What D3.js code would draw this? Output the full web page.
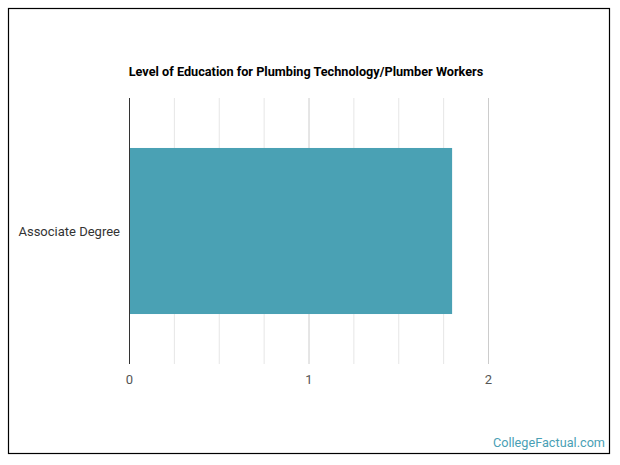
<!DOCTYPE html>
<html>
<head>
<meta charset="utf-8">
<script src="https://cdn.jsdelivr.net/npm/d3@7"></script>
<style>
  body { margin: 0; background: #fff; font-family: Roboto, "Noto Sans", sans-serif; }
</style>
</head>
<body>
<div id="chart-area"></div>
<script>
// chart data
var categories = ["Associate Degree"];
var values = [1.8];
var tickValues = [0, 1, 2];
var gridValues = [0.25, 0.5, 0.75, 1, 1.25, 1.5, 1.75, 2];

var width = 620;
var height = 465;

var svg = d3.select("#chart-area")
    .append("svg")
    .attr("width", width)
    .attr("height", height);

// frame
svg.append("rect")
    .attr("x", 8.5)
    .attr("y", 8.5)
    .attr("width", 601)
    .attr("height", 445)
    .attr("fill", "none")
    .attr("stroke", "#000")
    .attr("stroke-width", 1.2);

svg.append("text")
    .attr("x", 306)
    .attr("y", 75.5)
    .attr("text-anchor", "middle")
    .attr("font-size", "12.7px")
    .attr("font-weight", "bold")
    .attr("fill", "#000")
    .text("Level of Education for Plumbing Technology/Plumber Workers");

var x = d3.scaleLinear()
    .domain([0, 2])
    .range([129, 488]);

var y = d3.scaleBand()
    .domain(categories)
    .range([98, 364])
    .paddingInner(0)
    .paddingOuter(0.301);

// grid
svg.append("g")
    .selectAll("line")
    .data(gridValues)
    .enter()
    .append("line")
        .attr("x1", function(d) { return x(d) + 0.5; })
        .attr("x2", function(d) { return x(d) + 0.5; })
        .attr("y1", 98)
        .attr("y2", 364)
        .attr("stroke", function(d) { return d % 1 === 0 ? "#cccccc" : "#e6e6e6"; })
        .attr("stroke-width", 1);

// bars
svg.append("g")
    .selectAll("rect")
    .data(values)
    .enter()
    .append("rect")
        .attr("x", x(0))
        .attr("y", function(d, i) { return y(categories[i]); })
        .attr("width", function(d) { return x(d) - x(0); })
        .attr("height", y.bandwidth())
        .attr("fill", "#4aa1b4");

// y axis line
svg.append("line")
    .attr("x1", x(0) + 0.5)
    .attr("x2", x(0) + 0.5)
    .attr("y1", 98)
    .attr("y2", 364)
    .attr("stroke", "#333")
    .attr("stroke-width", 1);

// category labels
svg.append("g")
    .selectAll("text")
    .data(categories)
    .enter()
    .append("text")
        .attr("x", 120)
        .attr("y", function(d) { return y(d) + y.bandwidth() / 2; })
        .attr("dy", "0.35em")
        .attr("text-anchor", "end")
        .attr("font-size", "13px")
        .attr("fill", "#333")
        .text(function(d) { return d; });

// x axis
var xAxisCall = d3.axisBottom(x)
    .tickValues(tickValues)
    .tickSize(0)
    .tickPadding(11)
    .tickFormat(d3.format("d"));

var xAxisGroup = svg.append("g")
    .attr("transform", "translate(0, 364)")
    .call(xAxisCall);

xAxisGroup.select(".domain").remove();
xAxisGroup.selectAll("text")
    .attr("font-family", "Roboto, sans-serif")
    .attr("font-size", "13px")
    .attr("fill", "#555");

svg.append("text")
    .attr("x", 605)
    .attr("y", 447)
    .attr("text-anchor", "end")
    .attr("font-size", "12.7px")
    .attr("fill", "#4a9fb5")
    .text("CollegeFactual.com");
</script>
</body>
</html>
